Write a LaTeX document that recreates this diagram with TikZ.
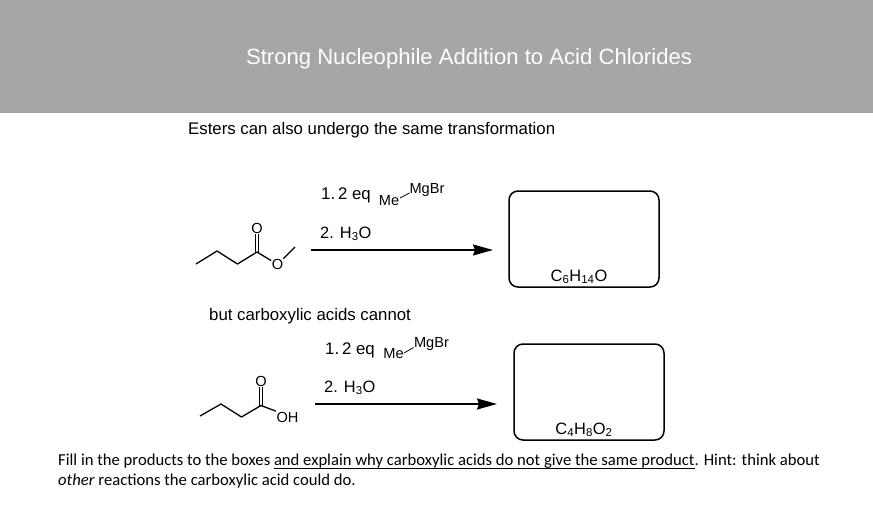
\documentclass[tikz,border=0pt]{standalone}
\usepackage{fontspec}
\setmainfont{Liberation Sans}
\newfontfamily\notefont{Carlito}
\usetikzlibrary{arrows.meta}
\newcommand{\ulpart}[1]{\underline{\smash{#1}\vrule depth 1.6pt width 0pt}}
\tikzset{
  bond/.style={line width=1.3pt,line join=round},
  atom/.style={inner sep=.5pt,font=\fontsize{14.6}{14.6}\selectfont},
  label/.style={inner sep=0pt,anchor=base west,font=\fontsize{16.8}{16.8}\selectfont},
  answer/.style={draw,line width=1.5pt,rounded corners=9pt},
  rxn/.style={line width=1.6pt,-{Stealth[length=20pt,width=11pt,inset=2pt]}},
  formula/.style={inner sep=.5pt,font=\fontsize{16.4}{16.4}\selectfont},
  hinttext/.style={inner sep=0pt,anchor=base west,font=\notefont\fontsize{16.65}{16.65}\selectfont},
}
\begin{document}
\begin{tikzpicture}[x=1pt,y=-1pt]
\useasboundingbox (0,0) rectangle (873,511);
\fill[black!35] (0,0) rectangle (873,113);
\node (title) at (469,58.5) [text=white,inner sep=0pt,font=\fontsize{22.1}{22.1}\selectfont]{Strong Nucleophile Addition to Acid Chlorides};
\node (intro) at (188,134) [label]{Esters can also undergo the same transformation};
\node (but) at (209,320.5) [label]{but carboxylic acids cannot};
% ester
\coordinate (e1) at (196,264);
\coordinate (e2) at (217,251);
\coordinate (e3) at (237.5,264);
\coordinate (e4) at (257,252);
\coordinate (e5) at (295,247);
\node (eO) at (257,228) [atom]{O};
\node (eOr) at (277.5,264.5) [atom]{O};
\draw[bond] (e1)--(e2)--(e3)--(e4)--(eOr)--(e5);
\draw[bond] ([xshift=-1.7pt]e4)--([xshift=-1.7pt]eO.south);
\draw[bond] ([xshift=1.7pt]e4)--([xshift=1.7pt]eO.south);
% acid
\coordinate (a1) at (200,416);
\coordinate (a2) at (221,404);
\coordinate (a3) at (241.5,417);
\coordinate (a4) at (261,405.5);
\node (aO) at (261,381.5) [atom]{O};
\node (aOH) at (287.5,417) [atom]{OH};
\draw[bond] (a1)--(a2)--(a3)--(a4)--(aOH.north west);
\draw[bond] ([xshift=-1.7pt]a4)--([xshift=-1.7pt]aO.south);
\draw[bond] ([xshift=1.7pt]a4)--([xshift=1.7pt]aO.south);
% first conditions
\node (eq1) at (321,199) [label]{1.\,2 eq};
\node (wa1) at (320,238) [label,font=\fontsize{16.4}{16.4}\selectfont]{2. H\textsubscript{3}O};
\node (me1) at (389,201) [atom]{Me};
\node (mg1) at (427,189.5) [atom]{MgBr};
\coordinate (b1) at (400,198);
\coordinate (c1) at (409.5,193);
\draw[bond,line width=.8pt] (b1)--(c1);
% second conditions
\node (eq2) at (325,354) [label]{1.\,2 eq};
\node (wa2) at (324,392) [label,font=\fontsize{16.4}{16.4}\selectfont]{2. H\textsubscript{3}O};
\node (me2) at (393.5,354) [atom]{Me};
\node (mg2) at (431.5,343.5) [atom]{MgBr};
\coordinate (b2) at (404,353);
\coordinate (c2) at (413.5,347.5);
\draw[bond,line width=.8pt] (b2)--(c2);
% arrows
\coordinate (s1) at (311,250);
\coordinate (t1) at (493,250);
\coordinate (s2) at (315,404);
\coordinate (t2) at (497,404);
\draw[rxn] (s1)--(t1);
\draw[rxn] (s2)--(t2);
% boxes
\draw[answer] (509,191) rectangle (659,287);
\draw[answer] (514,344) rectangle (664,440);
\node (f1) at (579,277) [formula]{C\textsubscript{6}H\textsubscript{14}O};
\node (f2) at (584,430) [formula]{C\textsubscript{4}H\textsubscript{8}O\textsubscript{2}};
% hint
\node (hint) at (58,465) [hinttext]{Fill in the products to the boxes \ulpart{and explain why carboxylic acids do not give the same product}. Hint: think about};
\node (hint2) at (58,485) [hinttext]{\textit{other} reactions the carboxylic acid could do.};
\end{tikzpicture}
\end{document}
